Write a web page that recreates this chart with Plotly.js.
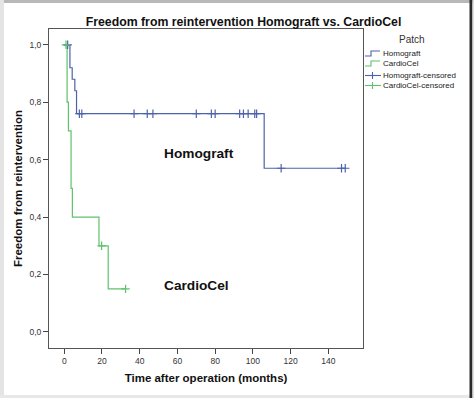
<!DOCTYPE html>
<html>
<head>
<meta charset="utf-8">
<script src="https://cdn.plot.ly/plotly-3.0.1.min.js"></script>
<style>
html,body{margin:0;padding:0;background:#fff;}
#chart{width:474px;height:398px;}
</style>
</head>
<body>
<div id="chart"></div>
<script>
// ---- data ----
const homTime = [0, 3, 4.2, 5.6, 6.5, 106, 149];
const homSurv = [1, 0.92, 0.88, 0.84, 0.76, 0.57, 0.57];
const homCensT = [1.8, 8, 9.3, 37, 44, 47, 70, 78, 80, 93, 95, 97.5, 101, 102, 115, 147, 149];
const homCensS = [1, 0.76, 0.76, 0.76, 0.76, 0.76, 0.76, 0.76, 0.76, 0.76, 0.76, 0.76, 0.76, 0.76, 0.57, 0.57, 0.57];
const cardTime = [0, 1.5, 2.2, 3.6, 4.3, 18.4, 23.3, 32.5];
const cardSurv = [1, 0.8, 0.7, 0.5, 0.4, 0.3, 0.15, 0.15];
const cardCensT = [0.9, 19.8, 32.5];
const cardCensS = [1, 0.3, 0.15];
const xTicks = [0, 20, 40, 60, 80, 100, 120, 140];
const yTicks = [0, 0.2, 0.4, 0.6, 0.8, 1.0];
const yTickText = ["0,0", "0,2", "0,4", "0,6", "0,8", "1,0"];
const legendTitle = "Patch";
const seriesNames = ["Homograft", "CardioCel", "Homograft-censored", "CardioCel-censored"];

const BLUE = "#4e62ab";
const GREEN = "#5fc26c";
const FONT = "Liberation Sans, Arial, sans-serif";

const W = 474, H = 398;
const L = 49, R = 363, T = 29, B = 348;
function px(x){ return (x - L) / (R - L); }
function py(y){ return (B - y) / (B - T); }

const traces = [
  {x: homTime, y: homSurv, name: seriesNames[0], mode: "lines",
   line: {shape: "hv", color: BLUE, width: 1.2}},
  {x: cardTime, y: cardSurv, name: seriesNames[1], mode: "lines",
   line: {shape: "hv", color: GREEN, width: 1.2}},
  {x: homCensT, y: homCensS, name: seriesNames[2], mode: "markers",
   marker: {symbol: "cross-thin", size: 6, color: BLUE, line: {color: BLUE, width: 1.2}}},
  {x: cardCensT, y: cardCensS, name: seriesNames[3], mode: "markers",
   marker: {symbol: "cross-thin", size: 6, color: GREEN, line: {color: GREEN, width: 1.2}}}
];

const frameShapes = [
  {type: "rect", xref: "paper", yref: "paper", x0: px(0), x1: px(W), y0: py(0), y1: py(3),
   fillcolor: "#b8b8b8", line: {width: 0}, layer: "above"},
  {type: "rect", xref: "paper", yref: "paper", x0: px(0), x1: px(4), y0: py(0), y1: py(H),
   fillcolor: "#e4e4e4", line: {width: 0}, layer: "above"},
  {type: "rect", xref: "paper", yref: "paper", x0: px(0), x1: px(W), y0: py(395), y1: py(H),
   fillcolor: "#e8e8e8", line: {width: 0}, layer: "above"},
  {type: "rect", xref: "paper", yref: "paper", x0: px(469.5), x1: px(472.5), y0: py(0), y1: py(H),
   fillcolor: "#2a2a2a", line: {width: 0}, layer: "above"},
  {type: "rect", xref: "paper", yref: "paper", x0: px(472.5), x1: px(W), y0: py(0), y1: py(H),
   fillcolor: "#e0e0e0", line: {width: 0}, layer: "above"}
];

// manual legend (SPSS style)
const legRows = [53.5, 63.5, 75.5, 85.5];
const legColors = [BLUE, GREEN, BLUE, GREEN];
const legShapes = [];
const legAnn = [];
legRows.forEach((yy, i) => {
  if (i < 2) {
    legShapes.push({type: "path", xref: "paper", yref: "paper",
      path: `M ${px(365)} ${py(yy+2.5)} L ${px(371)} ${py(yy+2.5)} L ${px(371)} ${py(yy-2.5)} L ${px(380)} ${py(yy-2.5)}`,
      line: {color: legColors[i], width: 1.1}});
  } else {
    legShapes.push({type: "line", xref: "paper", yref: "paper",
      x0: px(365), x1: px(381), y0: py(yy), y1: py(yy), line: {color: legColors[i], width: 1.1}});
    legShapes.push({type: "line", xref: "paper", yref: "paper",
      x0: px(372.5), x1: px(372.5), y0: py(yy-3.5), y1: py(yy+3.5), line: {color: legColors[i], width: 1.1}});
  }
  legAnn.push({xref: "paper", yref: "paper", x: px(381.5), y: py(yy), xanchor: "left", yanchor: "middle",
    text: seriesNames[i], showarrow: false, borderpad: 0,
    font: {family: FONT, size: 8, color: "#222"}});
});
legAnn.push({xref: "paper", yref: "paper", x: px(412), y: py(39.5), xanchor: "center", yanchor: "middle",
  text: legendTitle, showarrow: false, font: {family: FONT, size: 10, color: "#333"}});

const layout = {
  width: W, height: H,
  margin: {l: L, r: W - R, t: T, b: H - B, autoexpand: false},
  paper_bgcolor: "#fff", plot_bgcolor: "#fff",
  font: {family: FONT, color: "#222", size: 9},
  title: {text: "<b>Freedom from reintervention Homograft vs. CardioCel</b>",
          font: {family: FONT, size: 12.3, color: "#111"},
          x: 243.5/W, xanchor: "center", y: 1 - 21.5/H, yanchor: "middle", yref: "container", xref: "container"},
  xaxis: {range: [-8.1, 158.4], tickvals: xTicks, ticks: "outside", ticklen: 5,
          tickcolor: "#444", showgrid: false, zeroline: false,
          showline: true, mirror: true, linecolor: "#555", linewidth: 1,
          tickfont: {size: 8.5, color: "#333"},
          title: {text: "<b>Time after operation (months)</b>", font: {size: 11.5, color: "#111"}, standoff: 8}},
  yaxis: {range: [-0.056, 1.055], tickvals: yTicks, ticktext: yTickText, ticks: "outside", ticklen: 5,
          tickcolor: "#444", showgrid: false, zeroline: false,
          showline: true, mirror: true, linecolor: "#555", linewidth: 1,
          tickfont: {size: 8.5, color: "#333"},
          title: {text: "<b>Freedom from reintervention</b>", font: {size: 11.5, color: "#111"}, standoff: 4}},
  showlegend: false,
  annotations: [
    {x: 51.8, y: 0.622, xref: "x", yref: "y", xanchor: "left", text: "<b>Homograft</b>", showarrow: false,
     font: {family: FONT, size: 13.7, color: "#111"}},
    {x: 51.8, y: 0.163, xref: "x", yref: "y", xanchor: "left", text: "<b>CardioCel</b>", showarrow: false,
     font: {family: FONT, size: 13.7, color: "#111"}}
  ].concat(legAnn),
  shapes: frameShapes.concat(legShapes)
};

Plotly.newPlot("chart", traces, layout, {displayModeBar: false, staticPlot: true});
</script>
</body>
</html>
